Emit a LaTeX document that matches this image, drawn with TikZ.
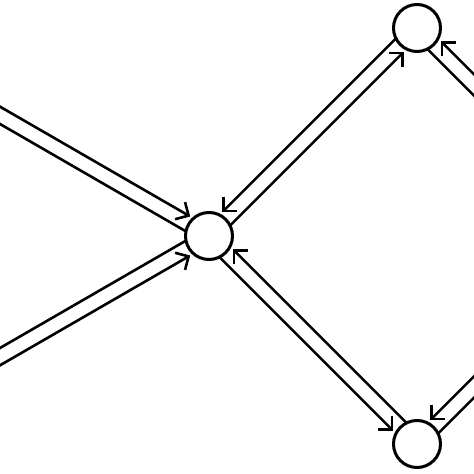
\documentclass[tikz,border=0pt]{standalone}
\usetikzlibrary{arrows.meta,calc}
\tikzset{
  knoten/.style={circle, draw, line width=3pt, minimum size=47pt, inner sep=0pt, fill=white},
  spur/.style={line width=2.6pt, shorten <=22pt, shorten >=22pt},
  pfeil/.style={spur, -{Straight Barb[angle=90:14pt]}, shorten >=26pt},
}

\begin{document}
\begin{tikzpicture}[x=1pt,y=1pt]

    \useasboundingbox (0,0) rectangle (474,474);
    \clip (0,0) rectangle (474,474);

    \node[knoten] (m) at (209,238) {};
    \node[knoten] (o) at (417,446) {};
    \node[knoten] (u) at (417,30) {};

    % ends outside the picture
    \coordinate (lo) at ($(m)+(150:330)$);
    \coordinate (lu) at ($(m)+(210:330)$);
    \coordinate (ro) at ($(o)+(-45:150)$);
    \coordinate (ru) at ($(u)+(45:150)$);

    % left
    \draw[pfeil] ($(lo)!7.5pt!90:(m)$) -- ($(m)!7.5pt!-90:(lo)$);
    \draw[spur] ($(lo)!7.5pt!-90:(m)$) -- ($(m)!7.5pt!90:(lo)$);
    \draw[pfeil] ($(lu)!7.5pt!-90:(m)$) -- ($(m)!7.5pt!90:(lu)$);
    \draw[spur] ($(lu)!7.5pt!90:(m)$) -- ($(m)!7.5pt!-90:(lu)$);

    % middle
    \draw[pfeil] ($(m)!7.5pt!-90:(o)$) -- ($(o)!7.5pt!90:(m)$);
    \draw[pfeil] ($(o)!7.5pt!-90:(m)$) -- ($(m)!7.5pt!90:(o)$);
    \draw[pfeil] ($(m)!7.5pt!-90:(u)$) -- ($(u)!7.5pt!90:(m)$);
    \draw[pfeil] ($(u)!7.5pt!-90:(m)$) -- ($(m)!7.5pt!90:(u)$);

    % right
    \draw[pfeil] ($(ro)!7.5pt!-90:(o)$) -- ($(o)!7.5pt!90:(ro)$);
    \draw[spur] ($(ro)!7.5pt!90:(o)$) -- ($(o)!7.5pt!-90:(ro)$);
    \draw[pfeil] ($(ru)!7.5pt!-90:(u)$) -- ($(u)!7.5pt!90:(ru)$);
    \draw[spur] ($(ru)!7.5pt!90:(u)$) -- ($(u)!7.5pt!-90:(ru)$);

\end{tikzpicture}
\end{document}
